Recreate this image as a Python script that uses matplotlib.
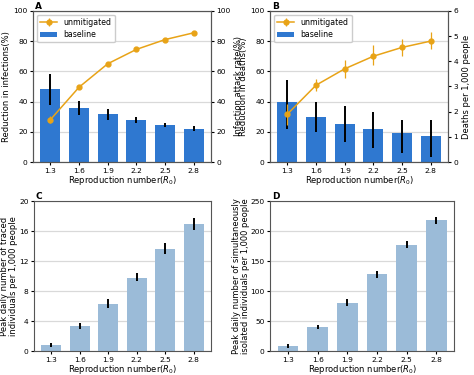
import matplotlib
matplotlib.use("Agg")
from matplotlib import pyplot as plt

r0 = ["1.3", "1.6", "1.9", "2.2", "2.5", "2.8"]

# panel A
inf_red = [48, 35.5, 31.5, 28, 24.5, 22]
inf_red_lo = [38, 31, 28, 26, 23, 20.5]
inf_red_hi = [58, 40.5, 35, 30, 26, 23.5]
attack = [28, 49.5, 65, 74.5, 81, 85.5]
attack_lo = [25.5, 48.5, 64, 73.5, 80.5, 85]
attack_hi = [30.5, 50.5, 66, 75.5, 81.5, 86]

# panel B
death_red = [40, 30, 25, 22, 19, 17]
death_red_lo = [22, 20, 13, 9, 6, 3]
death_red_hi = [54, 40, 37, 33, 28, 28]
deaths = [1.9, 3.05, 3.7, 4.2, 4.55, 4.8]
deaths_lo = [1.45, 2.8, 3.35, 3.85, 4.2, 4.5]
deaths_hi = [2.3, 3.3, 4.05, 4.65, 4.9, 5.15]

# panel C
traced = [0.75, 3.3, 6.3, 9.8, 13.6, 16.9]
traced_lo = [0.5, 2.9, 5.7, 9.3, 13.0, 16.2]
traced_hi = [1.05, 3.7, 7.0, 10.4, 14.4, 17.7]

# panel D
isolated = [8, 40, 80, 128, 177, 218]
isolated_lo = [5, 36, 75, 122, 172, 212]
isolated_hi = [12, 44, 87, 133, 183, 224]

blue = "#2f78d0"
orange = "#e8a317"
light = "#9bbbd8"
xlab = "Reproduction number($R_0$)"
TS = 5.4   # tick size
LS = 6.0   # axis label size

plt.rcParams["axes.linewidth"] = 0.8
plt.rcParams["axes.edgecolor"] = "#555555"

fig = plt.figure(figsize=(4.74, 3.75), dpi=100)
axA = fig.add_axes([0.070, 0.568, 0.375, 0.403])
axB = fig.add_axes([0.570, 0.568, 0.375, 0.403])
axC = fig.add_axes([0.072, 0.064, 0.373, 0.400])
axD = fig.add_axes([0.570, 0.064, 0.388, 0.400])

x = list(range(len(r0)))


def err(v, lo, hi):
    return [[a - b for a, b in zip(v, lo)], [b - a for a, b in zip(v, hi)]]


def style(ax, ymax, ticks):
    ax.set_xticks(x)
    ax.set_xticklabels(r0)
    ax.set_xlim(-0.6, 5.6)
    ax.set_ylim(0, ymax)
    ax.set_yticks(ticks)
    ax.yaxis.grid(True, color="#d9d9d9", lw=0.9)
    ax.set_axisbelow(True)
    ax.tick_params(labelsize=TS, length=2.5, pad=1.5)
    ax.set_xlabel(xlab, fontsize=LS, labelpad=0.5)


def top_panel(ax, bars, blo, bhi, line, llo, lhi, ylab, ylab2, rmax, rticks, label):
    ax.bar(x, bars, 0.7, color=blue, label="baseline", zorder=2)
    ax.errorbar(x, bars, yerr=err(bars, blo, bhi), fmt="none", ecolor="black",
                elinewidth=1.4, zorder=3)
    style(ax, 100, [0, 20, 40, 60, 80, 100])
    ax.set_ylabel(ylab, fontsize=LS, labelpad=2)
    ax2 = ax.twinx()
    h = ax2.errorbar(x, line, yerr=err(line, llo, lhi), color=orange, marker="o",
                     ms=3.5, lw=1.1, elinewidth=0.9, label="unmitigated")
    ax2.set_ylim(0, rmax)
    ax2.set_yticks(rticks)
    ax2.tick_params(labelsize=TS, length=2.5, pad=1.5)
    ax2.set_ylabel(ylab2, fontsize=LS, labelpad=2.5)
    hb, lb = ax.get_legend_handles_labels()
    ax2.legend([h] + hb, ["unmitigated"] + lb, loc="upper left", fontsize=5.6,
               frameon=True, framealpha=1, edgecolor="#cccccc",
               borderpad=0.4, handlelength=2.2, labelspacing=0.4)
    ax.text(0.01, 1.0, label, transform=ax.transAxes, fontweight="bold",
            fontsize=6.5, ha="left", va="bottom")


top_panel(axA, inf_red, inf_red_lo, inf_red_hi, attack, attack_lo, attack_hi,
          "Reduction in infections(%)", "Infection attack rate(%)", 100,
          [0, 20, 40, 60, 80, 100], "A")
top_panel(axB, death_red, death_red_lo, death_red_hi, deaths, deaths_lo, deaths_hi,
          "Reduction in deaths(%)", "Deaths per 1,000 people", 6,
          [0, 1, 2, 3, 4, 5, 6], "B")


def bottom_panel(ax, vals, lo, hi, ymax, ticks, ylab, label):
    ax.bar(x, vals, 0.7, color=light, zorder=2)
    ax.errorbar(x, vals, yerr=err(vals, lo, hi), fmt="none", ecolor="black",
                elinewidth=1.4, zorder=3)
    style(ax, ymax, ticks)
    ax.set_ylabel(ylab, fontsize=LS, labelpad=0.5, linespacing=1.0)
    ax.text(0.01, 1.0, label, transform=ax.transAxes, fontweight="bold",
            fontsize=6.5, ha="left", va="bottom")


bottom_panel(axC, traced, traced_lo, traced_hi, 20, [0, 4, 8, 12, 16, 20],
             "Peak daily number of traced\nindividuals per 1,000 people", "C")
bottom_panel(axD, isolated, isolated_lo, isolated_hi, 250, [0, 50, 100, 150, 200, 250],
             "Peak daily number of simultaneously\nisolated individuals per 1,000 people", "D")

fig.savefig("out.png", dpi=100)
